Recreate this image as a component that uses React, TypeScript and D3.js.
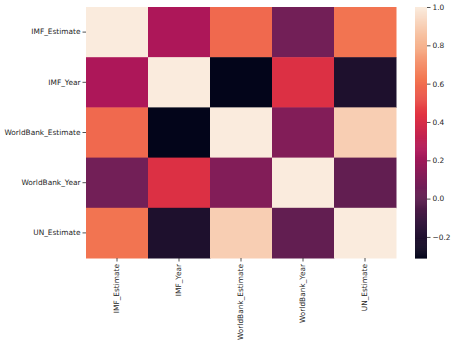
import * as d3 from "d3";
import React, { useEffect, useRef } from "react";

// correlation matrix labels (rows == columns)
const labels = [
  "IMF_Estimate",
  "IMF_Year",
  "WorldBank_Estimate",
  "WorldBank_Year",
  "UN_Estimate",
];

// one array per row
const imfEstimate = [1.0, 0.25, 0.59, 0.07, 0.62];
const imfYear = [0.25, 1.0, -0.31, 0.42, -0.21];
const worldBankEstimate = [0.59, -0.31, 1.0, 0.12, 0.9];
const worldBankYear = [0.07, 0.42, 0.12, 1.0, 0.02];
const unEstimate = [0.62, -0.21, 0.9, 0.02, 1.0];

const rows = [imfEstimate, imfYear, worldBankEstimate, worldBankYear, unEstimate];

const colorbarTicks = [-0.2, 0.0, 0.2, 0.4, 0.6, 0.8, 1.0];

// seaborn "rocket" approximated by a few stops
const rocketStops = [
  "#03051a",
  "#35193e",
  "#701f57",
  "#ad1759",
  "#e13342",
  "#f37651",
  "#f6b48f",
  "#faebdd",
];

const W = 474;
const H = 351;
const FONT = "DejaVu Sans, sans-serif";
const FS = 7.4;
const TEXT = "#262626";

export default function App() {
  const svgRef = useRef<SVGSVGElement>(null);

  useEffect(() => {
    const svg = d3.select(svgRef.current);
    svg.selectAll("*").remove();

    const left = 86;
    const right = 396;
    const top = 7;
    const bottom = 258;

    const cells = rows.flatMap((row, i) =>
      row.map((v, j) => ({ r: labels[i], c: labels[j], v }))
    );
    const [vmin, vmax] = d3.extent(cells, (d) => d.v) as [number, number];

    const t = d3.scaleLinear().domain([vmin, vmax]).range([0, 1]);
    const rocket = d3
      .scaleLinear<string>()
      .domain(rocketStops.map((_, i) => i / (rocketStops.length - 1)))
      .range(rocketStops)
      .interpolate(d3.interpolateRgb);
    const color = (v: number) => rocket(t(v));

    const x = d3.scaleBand().domain(labels).range([left, right]);
    const y = d3.scaleBand().domain(labels).range([top, bottom]);

    svg
      .append("g")
      .selectAll("rect")
      .data(cells)
      .join("rect")
      .attr("x", (d) => x(d.c)!)
      .attr("y", (d) => y(d.r)!)
      .attr("width", x.bandwidth() + 0.5)
      .attr("height", y.bandwidth() + 0.5)
      .attr("fill", (d) => color(d.v));

    const styleAxis = (g: d3.Selection<SVGGElement, unknown, null, undefined>) => {
      g.select(".domain").remove();
      g.selectAll(".tick line").attr("stroke", TEXT).attr("stroke-width", 0.8);
      g.selectAll(".tick text")
        .attr("fill", TEXT)
        .style("font-family", FONT)
        .style("font-size", `${FS}px`);
    };

    svg
      .append("g")
      .attr("transform", `translate(${left},0)`)
      .call(d3.axisLeft(y).tickSize(3.5).tickPadding(2))
      .call(styleAxis);

    svg
      .append("g")
      .attr("transform", `translate(0,${bottom})`)
      .call(d3.axisBottom(x).tickSize(3.5).tickPadding(2))
      .call(styleAxis)
      .selectAll(".tick text")
      .attr("transform", "rotate(-90)")
      .attr("text-anchor", "end")
      .attr("x", -6)
      .attr("y", 0)
      .attr("dy", "0.32em");

    // colorbar
    const cbX = 415;
    const cbW = 12;
    const cy = d3.scaleLinear().domain([vmin, vmax]).range([bottom, top]);
    const steps = d3.range(0, 256);
    svg
      .append("g")
      .selectAll("rect")
      .data(steps)
      .join("rect")
      .attr("x", cbX)
      .attr("width", cbW)
      .attr("y", (i) => cy(vmin + ((i + 1) / 256) * (vmax - vmin)))
      .attr("height", (bottom - top) / 256 + 0.6)
      .attr("fill", (i) => color(vmin + ((i + 0.5) / 256) * (vmax - vmin)));

    svg
      .append("g")
      .attr("transform", `translate(${cbX + cbW},0)`)
      .call(
        d3
          .axisRight(cy)
          .tickValues(colorbarTicks)
          .tickFormat((d) => d3.format(".1f")(d as number).replace("-", "\u2212"))
          .tickSize(3.5)
          .tickPadding(2)
      )
      .call(styleAxis);
  }, []);

  return (
    <svg
      ref={svgRef}
      width={W}
      height={H}
      style={{ position: "absolute", left: 0, top: 0, background: "#fff" }}
    />
  );
}
